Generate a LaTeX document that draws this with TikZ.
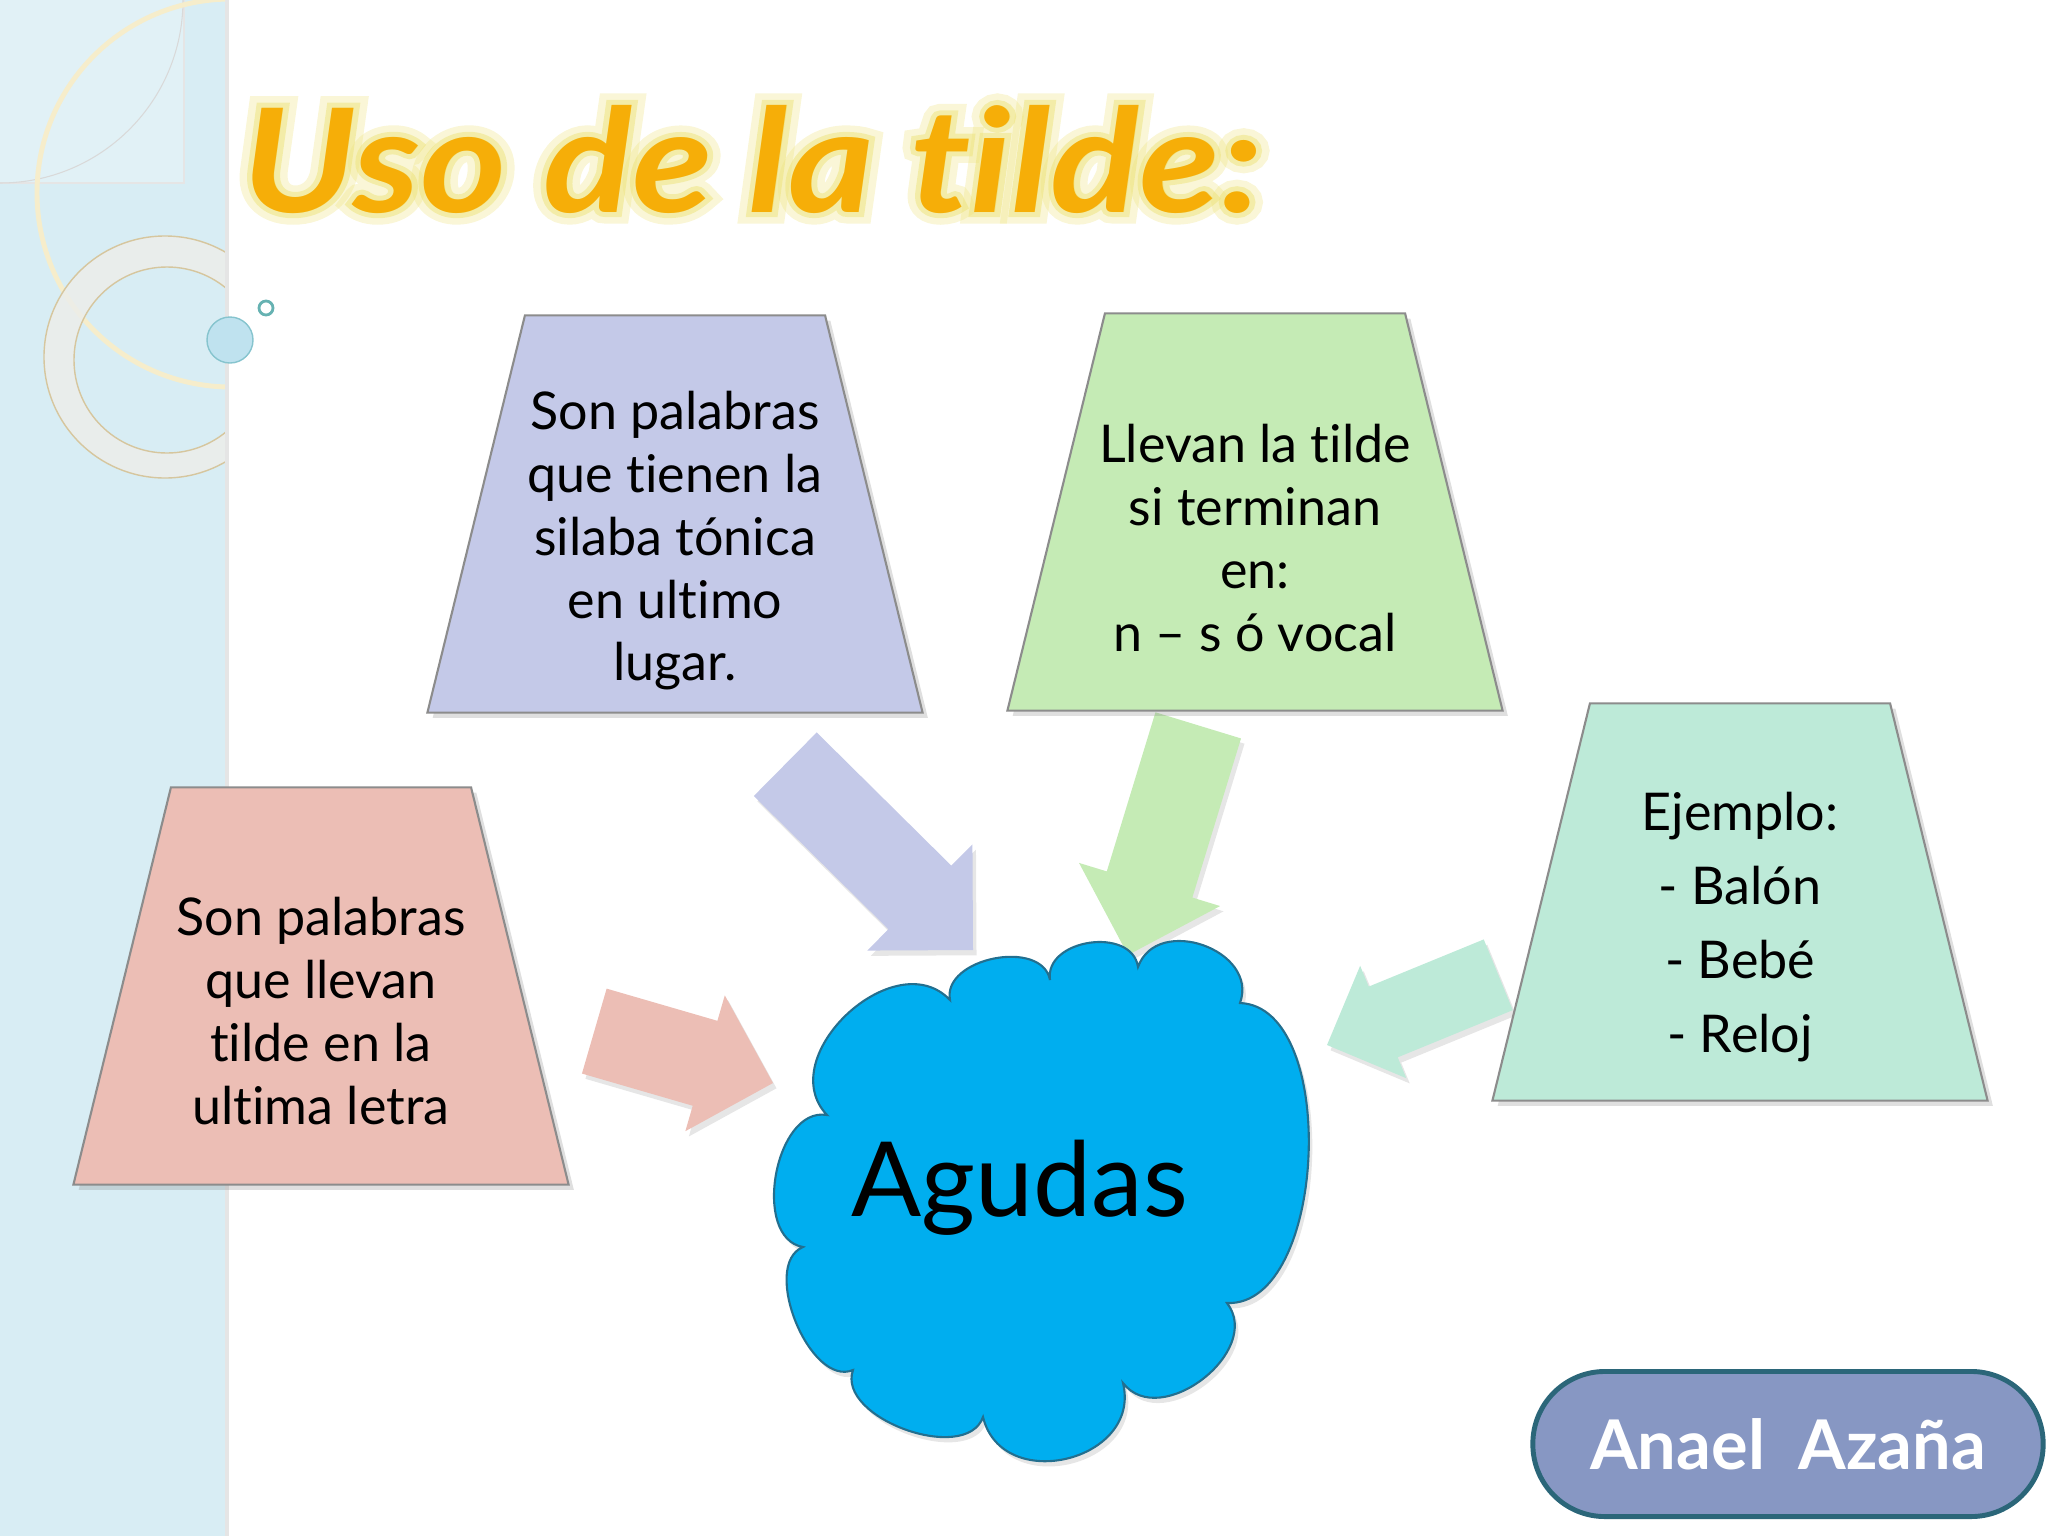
\documentclass[tikz,border=0pt]{standalone}
\usepackage{fontspec}
\setmainfont{Lato}[Ligatures=NoCommon]
\usetikzlibrary{shapes.geometric,shapes.arrows,shadows}

\definecolor{franja}{HTML}{D8EDF4}
\definecolor{crema}{HTML}{F6EDCB}
\definecolor{anillo}{HTML}{ECEDEA}
\definecolor{borde}{HTML}{D6C69E}
\definecolor{burbuja}{HTML}{BFE2EF}
\definecolor{morado}{HTML}{C4C9E8}
\definecolor{verde}{HTML}{C5EBB5}
\definecolor{rosa}{HTML}{ECBEB5}
\definecolor{menta}{HTML}{BDEAD8}
\definecolor{cielo}{HTML}{00AEEF}
\definecolor{orillanube}{HTML}{236F8F}
\definecolor{oro}{HTML}{F6AE08}
\definecolor{brillo}{HTML}{EDE27A}
\definecolor{placa}{HTML}{8797C3}
\definecolor{orillaplaca}{HTML}{2B6679}

\tikzset{
  caja/.style={trapezium, trapezium left angle=72, trapezium right angle=72,
    trapezium stretches=true, minimum width=4.95cm, minimum height=3.97cm,
    draw=black!45, line width=0.6pt,
    drop shadow={opacity=0.25, shadow xshift=1.5pt, shadow yshift=-1.5pt}},
  texto/.style={align=center, font=\fontsize{14.8}{17.85}\selectfont},
  flecha/.style n args={4}{single arrow, fill=#4, draw=none, inner xsep=0pt,
    inner ysep=#2, single arrow head extend=#3, minimum height=#1,
    anchor=tip, outer sep=0pt,
    drop shadow={opacity=0.2, shadow xshift=1pt, shadow yshift=-1.5pt}},
  titulo/.style={anchor=base west, font=\fontsize{41}{45}\selectfont\bfseries\itshape}
}

\begin{document}
\begin{tikzpicture}[x=0.01cm,y=-0.01cm]
  \useasboundingbox (0,0) rectangle (2048,1536);

  % franja de la izquierda
  \fill[franja] (0,0) rectangle (227,1536);
  \begin{scope}
    \clip (0,0) rectangle (227,1536);
    \fill[white,opacity=0.25] (0,0) rectangle (184,183);
    \draw[black!10,line width=0.3pt] (0,183) -- (184,183) -- (184,0);
    \draw[black!15,line width=0.3pt] (0,0) circle[radius=183];
    \draw[crema,line width=1.4pt] (231,193) circle[radius=194];
    \fill[anillo,opacity=0.85,even odd rule] (165,357) circle[radius=121] (167,360) circle[radius=93];
    \draw[borde,line width=0.4pt] (165,357) circle[radius=121] (167,360) circle[radius=93];
  \end{scope}
  \draw[black!10,line width=1pt] (227,0) -- (227,1536);
  \fill[burbuja] (230,340) circle[radius=23];
  \draw[burbuja!70!teal,line width=0.4pt] (230,340) circle[radius=23];
  \draw[teal!60,line width=0.8pt] (266,308) circle[radius=7];

  % titulo
  \node[titulo, text=brillo, opacity=0.3] (halo) at (230,212)
    {\addfontfeature{FakeBold=16}\scalebox{1.145}[1]{Uso de la tilde:}};
  \node[titulo, text=brillo, opacity=0.5] (halo2) at (230,212)
    {\addfontfeature{FakeBold=7}\scalebox{1.145}[1]{Uso de la tilde:}};
  \node[titulo, text=oro] (titulo) at (230,212) {\scalebox{1.145}[1]{Uso de la tilde:}};

  % flechas
  \node[flecha={2.64cm}{0.44cm}{0.30cm}{morado}, rotate=-44.7] (f1) at (973,950) {};
  \node[flecha={2.40cm}{0.44cm}{0.29cm}{verde}, rotate=-107] (f2) at (1128,955) {};
  \node[flecha={1.86cm}{0.435cm}{0.265cm}{rosa}, rotate=-16.2] (f3) at (773,1083) {};
  \node[flecha={1.85cm}{0.375cm}{0.225cm}{menta}, rotate=-157.7] (f4) at (1327,1045) {};

  % cajas
  \node[caja, fill=morado] (c1) at (675,514) {};
  \node[caja, fill=verde] (c2) at (1255,512) {};
  \node[caja, fill=rosa] (c3) at (321,986) {};
  \node[caja, fill=menta] (c4) at (1740,902) {};

  \node[texto] (t1) at ([yshift=-0.27cm]c1.center) {Son palabras\\que tienen la\\silaba tónica\\en ultimo\\lugar.};
  \node[texto] (t2) at ([yshift=-0.26cm]c2.center) {Llevan la tilde\\si terminan\\en:\\n – s ó vocal};
  \node[texto] (t3) at ([yshift=-0.25cm]c3.center) {Son palabras\\que llevan\\tilde en la\\ultima letra};
  \node[texto, font=\fontsize{14.8}{21}\selectfont] (t4) at ([yshift=-0.25cm]c4.center) {Ejemplo:\\- Balón\\- Bebé\\- Reloj};

  % nube
  \fill[cielo, draw=orillanube, line width=0.6pt,
        drop shadow={opacity=0.2, shadow xshift=1pt, shadow yshift=-1.5pt}]
    (827,1115) .. controls (772,1057) and (895,942) .. (950,1000)
               .. controls (942,958) and (1042,938) .. (1050,980)
               .. controls (1044,939) and (1132,926) .. (1138,967)
               .. controls (1157,914) and (1259,950) .. (1240,1003)
               .. controls (1340,1007) and (1327,1307) .. (1227,1303)
               .. controls (1264,1351) and (1160,1431) .. (1123,1383)
               .. controls (1142,1461) and (1002,1495) .. (983,1417)
               .. controls (966,1465) and (836,1418) .. (853,1370)
               .. controls (810,1388) and (760,1265) .. (803,1247)
               .. controls (751,1238) and (775,1106) .. (827,1115) -- cycle;
  \node[font=\fontsize{29.5}{32}\selectfont] (agudas) at (1020,1188) {Agudas};

  % nombre
  \node[rectangle, rounded corners=0.72cm, minimum width=5.1cm, minimum height=1.45cm,
        fill=placa, draw=orillaplaca, line width=1.4pt, text=white,
        font=\fontsize{19.5}{21}\selectfont\bfseries] (autor) at (1788,1444) {Anael\ \ Azaña};
\end{tikzpicture}
\end{document}
